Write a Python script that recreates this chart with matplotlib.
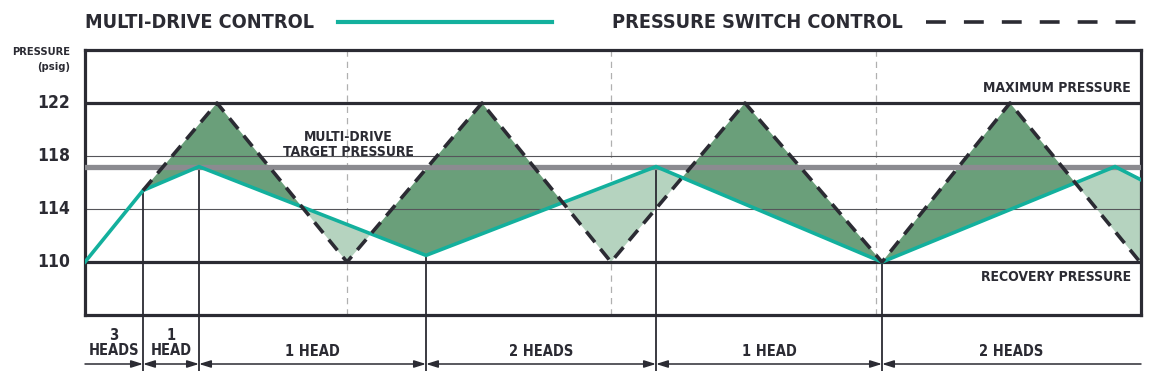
import numpy as np
import matplotlib
matplotlib.use("Agg")
import matplotlib.pyplot as plt
from matplotlib.lines import Line2D

# ---------------- data ----------------
# time axis in arbitrary units
switch_t = [58, 132, 262, 397, 526, 660, 797, 925, 1055]
switch_p = [115.4, 122, 110, 122, 110, 122, 110, 122, 110]

drive_t = [0, 58, 114, 341, 571, 797, 1030, 1056]
drive_p = [110, 115.4, 117.2, 110.5, 117.2, 110, 117.2, 116.2]

stage_bounds = [0, 58, 114, 341, 571, 797, 1056]
stage_labels = ["3\nHEADS", "1\nHEAD", "1 HEAD", "2 HEADS", "1 HEAD", "2 HEADS"]

switch_minima = [262, 526, 791]
target_pressure = 117.15
max_pressure = 122
recovery_pressure = 110
yticks = [110, 114, 118, 122]

# ---------------- style ----------------
W, H = 1153, 381
DARK = "#2b2b33"
TEAL = "#13b09d"
DKGREEN = "#6a9f7a"
LTGREEN = "#b5d3bf"
BAND = "#8b8b90"
FONT = dict(family="DejaVu Sans", stretch="condensed", weight="bold", color=DARK)

fig = plt.figure(figsize=(W / 100, H / 100), dpi=100)
fig.patch.set_facecolor("white")

def fx(px):
    return px / W

def fy(py):
    return 1 - py / H

L, R, T, B = 85, 1141, 50, 315
ax = fig.add_axes([fx(L), fy(B), fx(R - L), (B - T) / H])
ax.set_xlim(0, 1056)
ax.set_ylim(106, 126)
ax.set_xticks([])
ax.set_yticks([])
for s in ax.spines.values():
    s.set_linewidth(2.3)
    s.set_color(DARK)

# fills between the two control curves
t_all = np.array(sorted(set(switch_t) | set(drive_t[1:])), dtype=float)
sw = np.interp(t_all, switch_t, switch_p)
dr = np.interp(t_all, drive_t, drive_p)
ax.fill_between(t_all, sw, dr, where=sw >= dr, interpolate=True,
                color=DKGREEN, lw=0, zorder=1)
ax.fill_between(t_all, sw, dr, where=sw <= dr, interpolate=True,
                color=LTGREEN, lw=0, zorder=1)

# grid lines
for p in [114, 118]:
    ax.axhline(p, color="#55555a", lw=0.8, zorder=2)
for p in [max_pressure, recovery_pressure]:
    ax.axhline(p, color=DARK, lw=2.3, zorder=2)
for t in switch_minima:
    ax.axvline(t, color="#b0b0b0", lw=0.9, dashes=(5, 4), zorder=0.5)
ax.axhline(target_pressure, color=BAND, lw=3.8, zorder=3)

# stage vertical lines (inside box, from bottom to drive curve)
stage_inner = stage_bounds[1:-1]
ax.vlines(stage_inner, 106, np.interp(stage_inner, drive_t, drive_p),
          color=DARK, lw=1.3, zorder=2.5)

# curves
ax.plot(drive_t, drive_p, color=TEAL, lw=2.6, zorder=4, solid_joinstyle="miter")
ax.plot(switch_t, switch_p, color=DARK, lw=2.6, dashes=(3.8, 2.4), zorder=5)

# in-plot annotations
ax.text(1046, 123.15, "MAXIMUM PRESSURE", ha="right", va="center", fontsize=10, **FONT)
ax.text(1046, 108.9, "RECOVERY PRESSURE", ha="right", va="center", fontsize=10, **FONT)
ax.text(263, 118.85, "MULTI-DRIVE\nTARGET PRESSURE", ha="center", va="center",
        fontsize=10, linespacing=1.05, **FONT)

# y tick labels
for p in yticks:
    ax.text(-15, p, str(p), ha="right", va="center", fontsize=12.5, **FONT)
fig.text(fx(70), fy(52), "PRESSURE", ha="right", va="center", fontsize=8, **FONT)
fig.text(fx(70), fy(67), "(psig)", ha="right", va="center", fontsize=8, **FONT)

# ---------------- bottom stage axis ----------------
ax2 = fig.add_axes([fx(L), 0, fx(R - L), fy(B)], sharex=ax)
ax2.set_ylim(0, 1)
ax2.axis("off")
ytop = 1.0
ybot = (H - 371) / (H - B)
yarr = (H - 364) / (H - B)
ax2.vlines(stage_inner, ybot, ytop, color=DARK, lw=1.3)
n = len(stage_labels)
for i, lab in enumerate(stage_labels):
    a, b = stage_bounds[i], stage_bounds[i + 1]
    if i == 0:
        style = "-|>"
    elif i == n - 1:
        style = "<|-"
    else:
        style = "<|-|>"
    ax2.annotate("", xy=(b, yarr), xytext=(a, yarr),
                 arrowprops=dict(arrowstyle=style + ",head_length=0.7,head_width=0.22",
                                 color=DARK, lw=1.1, shrinkA=0, shrinkB=0))
    ypos = (H - 343) / (H - B) if "\n" in lab else (H - 352) / (H - B)
    ax2.text((a + b) / 2, ypos, lab, ha="center", va="center", fontsize=10.5,
             linespacing=1.0, **FONT)

# ---------------- top legend ----------------
fig.text(fx(85), fy(22), "MULTI-DRIVE CONTROL", ha="left", va="center", fontsize=14.2, **FONT)
fig.add_artist(Line2D([fx(338), fx(552)], [fy(21.5), fy(21.5)], color=TEAL, lw=3.0))
fig.text(fx(612), fy(22), "PRESSURE SWITCH CONTROL", ha="left", va="center", fontsize=14.2, **FONT)
fig.add_artist(Line2D([fx(926), fx(1143)], [fy(21.5), fy(21.5)], color=DARK, lw=2.6,
                      dashes=(5.5, 5)))

fig.savefig("out.png", dpi=100)
